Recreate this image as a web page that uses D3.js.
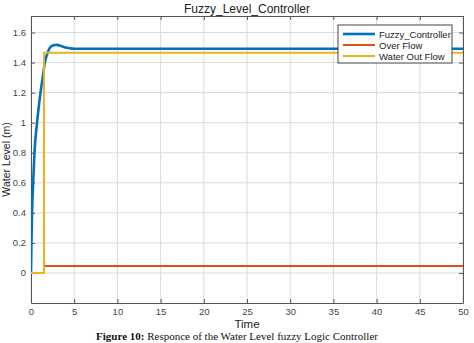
<!DOCTYPE html>
<html>
<head>
<meta charset="utf-8">
<script src="https://cdn.jsdelivr.net/npm/d3@7"></script>
<style>
  html, body { margin: 0; padding: 0; background: #fff; }
  svg { display: block; }
</style>
</head>
<body>
<svg id="chart" width="474" height="343"></svg>
<script>
// Time samples and responses of the water level system
const fuzzyTime  = [0, 0.05, 0.12, 0.25, 0.4, 0.7, 1.1, 1.4, 1.6, 1.9, 2.2, 2.6, 3.0, 3.5, 4.0, 4.5, 5.0, 50];
const fuzzyLevel = [0, 0.2, 0.4, 0.6, 0.8, 1.0, 1.2, 1.32, 1.4, 1.46, 1.5, 1.515, 1.518, 1.51, 1.5, 1.495, 1.492, 1.492];
const overTime   = [1.5, 50];
const overLevel  = [0.046, 0.046];
const outTime    = [0, 1.5, 1.5, 50];
const outLevel   = [0, 0, 1.465, 1.465];

const xTicks = [0, 5, 10, 15, 20, 25, 30, 35, 40, 45, 50];
const yTicks = [0, 0.2, 0.4, 0.6, 0.8, 1, 1.2, 1.4, 1.6];
const seriesNames  = ["Fuzzy_Controller", "Over Flow", "Water Out Flow"];
const seriesColors = ["#0072BD", "#D95319", "#EDB120"];

const svg = d3.select("#chart");
const m = { left: 31, right: 463, top: 16, bottom: 303 };

const x = d3.scaleLinear().domain([0, 50]).range([m.left, m.right]);
const y = d3.scaleLinear().domain([-0.2, 1.71]).range([m.bottom, m.top]);

// grid
const grid = svg.append("g");
grid.selectAll("line.vx").data(xTicks).join("line")
  .attr("x1", d => x(d)).attr("x2", d => x(d))
  .attr("y1", m.top).attr("y2", m.bottom)
  .attr("stroke", "#dcdcdc").attr("stroke-width", 1);
grid.selectAll("line.hy").data(yTicks).join("line")
  .attr("y1", d => y(d)).attr("y2", d => y(d))
  .attr("x1", m.left).attr("x2", m.right)
  .attr("stroke", "#dcdcdc").attr("stroke-width", 1);

// axes (ticks pointing inward, MATLAB style)
const axisColor = "#555";
svg.append("g").attr("transform", `translate(0,${m.bottom})`)
  .call(d3.axisBottom(x).tickValues(xTicks).tickSizeInner(-4).tickSizeOuter(0).tickPadding(5));
svg.append("g").attr("transform", `translate(${m.left},0)`)
  .call(d3.axisLeft(y).tickValues(yTicks).tickFormat(d3.format("~g")).tickSizeInner(-4).tickSizeOuter(0).tickPadding(5));
svg.append("g").attr("transform", `translate(0,${m.top})`)
  .call(d3.axisTop(x).tickValues(xTicks).tickSizeInner(-4).tickSizeOuter(0).tickFormat(""));
svg.append("g").attr("transform", `translate(${m.right},0)`)
  .call(d3.axisRight(y).tickValues(yTicks).tickSizeInner(-4).tickSizeOuter(0).tickFormat(""));
svg.selectAll(".domain, .tick line").attr("stroke", axisColor);
svg.selectAll(".tick text")
  .attr("fill", "#444").style("font-family", "Liberation Sans, Arial, sans-serif").style("font-size", "9.5px");

// series
svg.append("clipPath").attr("id", "plotclip").append("rect")
  .attr("x", m.left).attr("y", m.top).attr("width", m.right - m.left).attr("height", m.bottom - m.top);

const smooth = d3.line().x(d => x(d[0])).y(d => y(d[1])).curve(d3.curveMonotoneX);
const straight = d3.line().x(d => x(d[0])).y(d => y(d[1]));

const plot = svg.append("g").attr("clip-path", "url(#plotclip)");
plot.append("path").datum(d3.zip(fuzzyTime, fuzzyLevel))
  .attr("d", smooth).attr("fill", "none").attr("stroke", seriesColors[0]).attr("stroke-width", 2.6);
plot.append("path").datum(d3.zip(overTime, overLevel))
  .attr("d", straight).attr("fill", "none").attr("stroke", seriesColors[1]).attr("stroke-width", 2);
plot.append("path").datum(d3.zip(outTime, outLevel))
  .attr("d", straight).attr("fill", "none").attr("stroke", seriesColors[2]).attr("stroke-width", 2);

// legend
const lg = svg.append("g");
lg.append("rect").attr("x", 338).attr("y", 25).attr("width", 114).attr("height", 38)
  .attr("fill", "#fff").attr("stroke", "#444").attr("stroke-width", 1);
seriesNames.forEach((name, i) => {
  const yy = 34 + i * 11;
  lg.append("line").attr("x1", 343).attr("x2", 375).attr("y1", yy).attr("y2", yy)
    .attr("stroke", seriesColors[i]).attr("stroke-width", i === 0 ? 2.6 : 2);
  lg.append("text").attr("x", 379).attr("y", yy + 3.5).text(name)
    .attr("fill", "#222").style("font-family", "Liberation Sans, Arial, sans-serif").style("font-size", "9.5px");
});

// titles
svg.append("text").attr("x", 247).attr("y", 13).attr("text-anchor", "middle")
  .text("Fuzzy_Level_Controller").attr("fill", "#222")
  .style("font-family", "Liberation Sans, Arial, sans-serif").style("font-size", "12px");
svg.append("text").attr("x", 247).attr("y", 328).attr("text-anchor", "middle")
  .text("Time").attr("fill", "#222")
  .style("font-family", "Liberation Sans, Arial, sans-serif").style("font-size", "11.5px");
svg.append("text").attr("transform", `translate(10,${(m.top + m.bottom) / 2}) rotate(-90)`)
  .attr("text-anchor", "middle").text("Water Level (m)").attr("fill", "#222")
  .style("font-family", "Liberation Sans, Arial, sans-serif").style("font-size", "10.5px");

// figure caption
const cap = svg.append("text").attr("x", 237).attr("y", 340).attr("text-anchor", "middle")
  .style("font-family", "Liberation Serif, Times New Roman, serif").style("font-size", "11px").attr("fill", "#111");
cap.append("tspan").attr("font-weight", "bold").text("Figure 10:");
cap.append("tspan").text(" Responce of the Water Level fuzzy Logic Controller");
</script>
</body>
</html>
